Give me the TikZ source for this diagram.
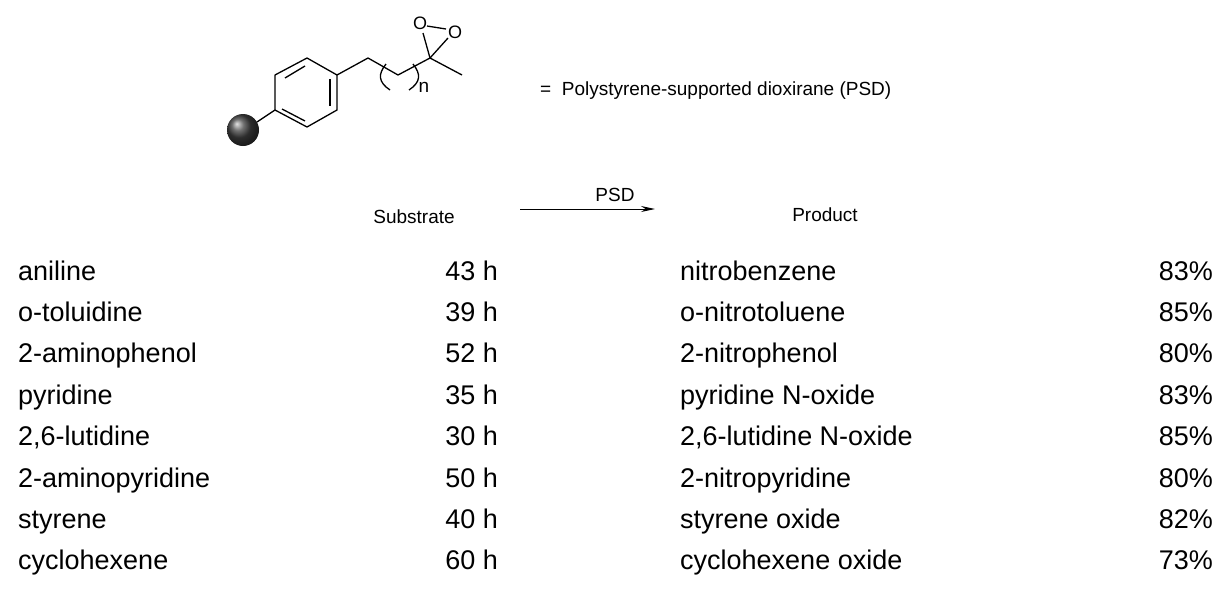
\documentclass[tikz,border=0pt]{standalone}
\usepackage{fontspec}
\setmainfont{Liberation Sans}
\usetikzlibrary{arrows.meta,calc}
\begin{document}
\begin{tikzpicture}[x=1pt,y=-1pt,
  bond/.style={line width=1.3pt,line join=round},
  row/.style={font=\fontsize{27}{30}\selectfont,inner sep=0pt},
  small/.style={font=\fontsize{19}{22}\selectfont,inner sep=0pt}]
\useasboundingbox (0,0) rectangle (1213,603);
% ring
\coordinate (r1) at (307,58); \coordinate (r2) at (337,75); \coordinate (r3) at (337,110);
\coordinate (r4) at (307,127); \coordinate (r5) at (275,110); \coordinate (r6) at (275,75);
\draw[bond] (r1)--(r2)--(r3)--(r4)--(r5)--(r6)--cycle;
\draw[bond] (285,78)--(305,66);
\draw[bond] (330,79)--(330,106);
\draw[bond] (282,109)--(305,121);
\node[circle,shading=ball,ball color=black!75,minimum size=32pt,inner sep=0pt] (ball) at (243,130) {};
\draw[bond] (r5)--(257,122);
% chain
\coordinate (c1) at (368,58); \coordinate (c2) at (398,75); \coordinate (c3) at (430,58);
\draw[bond] (r2)--(c1)--(c2)--(c3)--(462,75);
\draw[bond] (386,64) .. controls (378,74) and (378,82) .. (390,90);
\draw[bond] (413,64) .. controls (421,74) and (421,82) .. (409,90);
\node[small] at (424,87) {n};
\node[small,font=\fontsize{18}{20}\selectfont] (o1) at (420,23) {O};
\node[small,font=\fontsize{18}{20}\selectfont] (o2) at (455,32) {O};
\draw[bond] (c3)--(423,33);
\draw[bond] (c3)--(448,38);
\draw[bond] (427,26)--(446,29);
\node[small,anchor=west] (eq) at (540,91) {=\ \ Polystyrene-supported dioxirane (PSD)};
% header
\node[small] (sub) at (414,217) {Substrate};
\node[small] (prod) at (825,215) {Product};
\coordinate (a1) at (520,209); \coordinate (a2) at (655,209);
\draw[line width=1pt,-{Stealth[length=14pt,width=6pt]}] (a1)--(a2);
\node[small] (psd) at (615,195) {PSD};
% rows
\foreach \i/\s/\t/\p/\q [count=\k] in {
 0/aniline/43 h/nitrobenzene/83\%,
 1/o-toluidine/39 h/o-nitrotoluene/85\%,
 2/2-aminophenol/52 h/2-nitrophenol/80\%,
 3/pyridine/35 h/pyridine N-oxide/83\%,
 4/{2,6-lutidine}/30 h/{2,6-lutidine N-oxide}/85\%,
 5/2-aminopyridine/50 h/2-nitropyridine/80\%,
 6/styrene/40 h/styrene oxide/82\%,
 7/cyclohexene/60 h/cyclohexene oxide/73\%}{
 \pgfmathsetmacro\yy{280+41.4*\i}
 \node[row,anchor=base west] (s\k) at (18,\yy) {\s};
 \node[row,anchor=base east] (t\k) at (498,\yy) {\t};
 \node[row,anchor=base west] (p\k) at (680,\yy) {\p};
 \node[row,anchor=base east] (y\k) at (1213,\yy) {\q};
}
\end{tikzpicture}
\end{document}
